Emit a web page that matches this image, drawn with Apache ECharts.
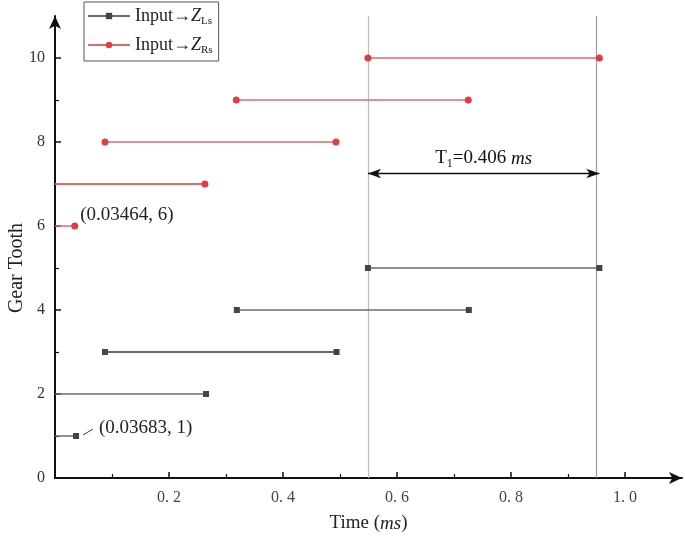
<!DOCTYPE html>
<html><head><meta charset="utf-8">
<script src="https://cdn.jsdelivr.net/npm/echarts@6/dist/echarts.min.js"></script>
<style>html,body{margin:0;padding:0;background:#fff}#c{width:685px;height:539px}</style>
</head><body><div id="c"></div>
<script>
// ---- data ----
const lsTeeth = [1, 2, 3, 4, 5];
const lsStart = [0, 0, 0.0877, 0.319, 0.549];
const lsEnd   = [0.03683, 0.265, 0.494, 0.726, 0.955];
const rsTeeth = [6, 7, 8, 9, 10];
const rsStart = [0, 0, 0.0877, 0.318, 0.549];
const rsEnd   = [0.03464, 0.263, 0.493, 0.725, 0.955];
const xMajorTicks = [0.2, 0.4, 0.6, 0.8, 1.0];
const xMinorTicks = [0.1, 0.3, 0.5, 0.7, 0.9];
const yMajorTicks = [0, 2, 4, 6, 8, 10];
const yMinorTicks = [1, 3, 5, 7, 9];
const periodStart = 0.549, periodEnd = 0.955, periodY = 7.25;
const periodText = '0.406';
const lsName = 'Input→Z_Ls', rsName = 'Input→Z_Rs';

// ---- styles ----
const FONT = 'Liberation Serif';
const blackLine = '#6b6b6b', blackMark = '#444444';
const redLine = '#dd6a68', redMark = '#e23b40';
const thickLs = {3: 2}, thickRs = {7: 2};

const series = [];
function seg(name, tooth, s, e, lineColor, markColor, symbol, size, width) {
  const startItem = s === 0 ? {value: [s, tooth], symbol: 'none'} : {value: [s, tooth]};
  series.push({
    type: 'line', name: name, xAxisIndex: 0, yAxisIndex: 0,
    data: [startItem, {value: [e, tooth]}],
    symbol: symbol, symbolSize: size, showSymbol: true,
    lineStyle: {color: lineColor, width: width},
    itemStyle: {color: markColor},
    animation: false, z: 5
  });
}
lsTeeth.forEach((t, i) => seg(lsName, t, lsStart[i], lsEnd[i], blackLine, blackMark, 'rect', 6, thickLs[t] || 1.5));
rsTeeth.forEach((t, i) => seg(rsName, t, rsStart[i], rsEnd[i], redLine, redMark, 'circle', 7, thickRs[t] || 1.5));

// annotations on the tiny segments' end points
series[0].data[1].label = {show: true, position: 'right', distance: 20, offset: [0, -8],
  formatter: '(' + lsEnd[0] + ', ' + lsTeeth[0] + ')', fontFamily: FONT, fontSize: 19, color: '#222'};
series[5].data[1].label = {show: true, position: 'right', distance: 2, offset: [0, -11],
  formatter: '(' + rsEnd[0] + ', ' + rsTeeth[0] + ')', fontFamily: FONT, fontSize: 19, color: '#222'};

// vertical period lines + arrow
series.push({
  type: 'line', data: [], xAxisIndex: 0, yAxisIndex: 0, silent: true, animation: false, z: 1,
  markLine: {
    silent: true, symbol: ['none', 'none'], animation: false, z: 1,
    label: {show: false},
    data: [
      {xAxis: periodStart, lineStyle: {color: '#bdbdbd', width: 1.2, type: 'solid'}},
      {xAxis: periodEnd, lineStyle: {color: '#9a9a9a', width: 1.2, type: 'solid'}}
    ]
  }
});
series.push({
  type: 'line', data: [], xAxisIndex: 0, yAxisIndex: 0, silent: true, animation: false,
  markLine: {
    silent: true, symbol: ['arrow', 'arrow'], symbolSize: [7, 13], animation: false,
    lineStyle: {color: '#111', width: 1.3, type: 'solid'},
    label: {show: true, position: 'middle', distance: 4,
      formatter: '{n|T}{s|1}{n|=' + periodText + ' }{i|ms}',
      rich: {
        n: {fontFamily: FONT, fontSize: 19, color: '#111'},
        s: {fontFamily: FONT, fontSize: 12, color: '#111', padding: [10, 0, 0, 0]},
        i: {fontFamily: FONT, fontSize: 19, color: '#111', fontStyle: 'italic'}
      }},
    data: [[{coord: [periodStart, periodY]}, {coord: [periodEnd, periodY]}]]
  }
});

function legendFmt(name) {
  const sub = name.split('_')[1];
  return '{n|Input→}{z|Z}{s|' + sub + '}';
}

const option = {
  backgroundColor: '#fff',
  animation: false,
  grid: {left: 55, right: 3, top: 16, bottom: 61},
  legend: {
    left: 84, top: 2, orient: 'vertical',
    data: [lsName, rsName],
    borderColor: '#555', borderWidth: 1, borderRadius: 0,
    padding: [5, 6, 5, 3], itemGap: 9,
    itemWidth: 42, itemHeight: 8,
    formatter: legendFmt,
    textStyle: {
      rich: {
        n: {fontFamily: FONT, fontSize: 18, color: '#222'},
        z: {fontFamily: FONT, fontSize: 18, color: '#222', fontStyle: 'italic'},
        s: {fontFamily: FONT, fontSize: 11, color: '#222', padding: [11, 0, 0, 0]}
      }
    }
  },
  xAxis: [{
    type: 'value', min: 0, max: 1.1,
    axisLine: {show: true, lineStyle: {color: '#111', width: 2}, symbol: ['none', 'arrow'], symbolSize: [9, 13]},
    axisTick: {show: true, inside: true, length: 6, customValues: xMajorTicks, lineStyle: {color: '#111', width: 1.5}},
    axisLabel: {customValues: xMajorTicks, margin: 12, fontFamily: FONT, fontSize: 16, color: '#444',
      formatter: v => v.toFixed(1).replace('.', '. ')},
    splitLine: {show: false},
    name: 'Time ({i|ms})', nameLocation: 'middle', nameGap: 36,
    nameTextStyle: {fontFamily: FONT, fontSize: 19, color: '#222',
      rich: {i: {fontFamily: FONT, fontSize: 19, color: '#222', fontStyle: 'italic'}}}
  }, {
    type: 'value', min: 0, max: 1.1, position: 'bottom',
    axisLine: {show: false},
    axisTick: {show: true, inside: true, length: 4, customValues: xMinorTicks, lineStyle: {color: '#111', width: 1.2}},
    axisLabel: {show: false}, splitLine: {show: false}
  }],
  yAxis: [{
    type: 'value', min: 0, max: 11,
    axisLine: {show: true, lineStyle: {color: '#111', width: 2}, symbol: ['none', 'arrow'], symbolSize: [9, 13]},
    axisTick: {show: true, inside: true, length: 6, customValues: yMajorTicks, lineStyle: {color: '#111', width: 1.5}},
    axisLabel: {customValues: yMajorTicks, margin: 10, fontFamily: FONT, fontSize: 16, color: '#333'},
    splitLine: {show: false}
  }, {
    type: 'value', min: 0, max: 11, position: 'left',
    axisLine: {show: false},
    axisTick: {show: true, inside: true, length: 4, customValues: yMinorTicks, lineStyle: {color: '#111', width: 1.2}},
    axisLabel: {show: false}, splitLine: {show: false}
  }],
  series: series
};

const chart = echarts.init(document.getElementById('c'), null, {renderer: 'canvas'});
chart.setOption(option);

// y-axis name placed at the middle of the tick range, leader line for the (0.03683, 1) label
const mid = chart.convertToPixel({xAxisIndex: 0, yAxisIndex: 0}, [0, 5]);
const p1 = chart.convertToPixel({xAxisIndex: 0, yAxisIndex: 0}, [lsEnd[0], lsTeeth[0]]);
chart.setOption({graphic: [{
  type: 'text', x: 7, y: mid[1], rotation: Math.PI / 2,
  style: {text: 'Gear Tooth', fontFamily: FONT, fontSize: 20, fill: '#222', textAlign: 'center', textVerticalAlign: 'top'}
}, {
  type: 'polyline', silent: true,
  shape: {points: [[p1[0] + 7, p1[1] - 1], [p1[0] + 12, p1[1] - 4], [p1[0] + 17, p1[1] - 7]]},
  style: {stroke: '#444', lineWidth: 1, fill: null}
}]});
</script>
</body></html>
